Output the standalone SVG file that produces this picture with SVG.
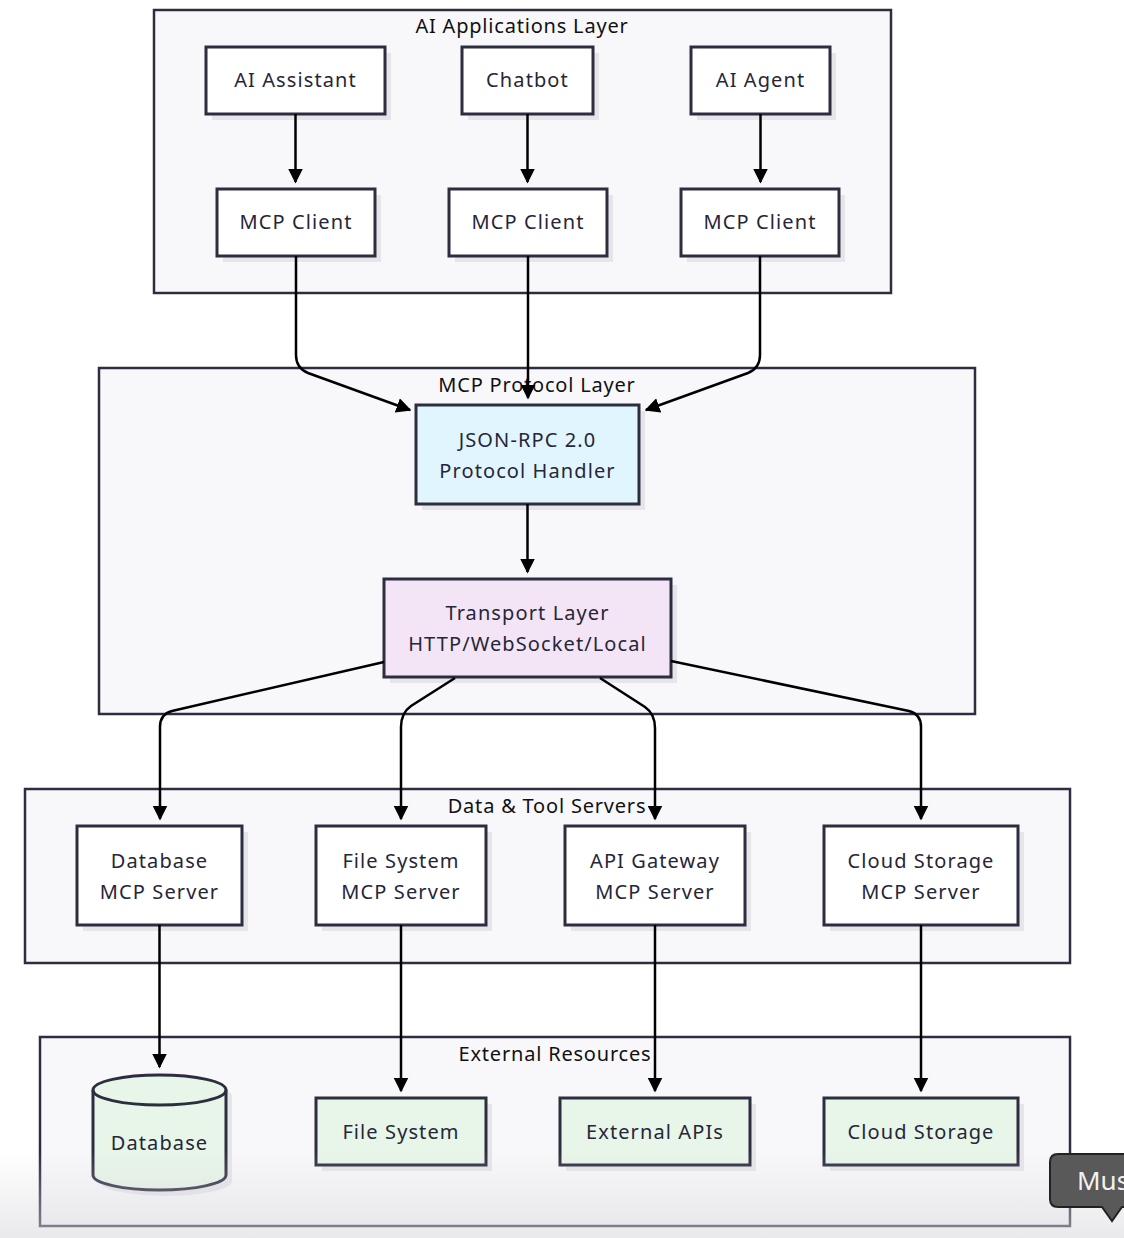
<svg xmlns="http://www.w3.org/2000/svg" width="1124" height="1238" viewBox="0 0 1124 1238">
<defs>
<marker id="arr" viewBox="0 0 10 10" refX="9" refY="5" markerWidth="6" markerHeight="6" markerUnits="strokeWidth" orient="auto">
<path d="M0,0 L10,5 L0,10 z" fill="#000"/>
</marker>
<linearGradient id="fade" x1="0" y1="0" x2="0" y2="1">
<stop offset="0" stop-color="#d8d8dc" stop-opacity="0"/>
<stop offset="1" stop-color="#d8d8dc" stop-opacity="0.55"/>
</linearGradient>
</defs>
<style>
.cl{fill:#f8f8fb;stroke:#2d2d40;stroke-width:2.5}
.nd{stroke:#2d2d40;stroke-width:3}
.sh{fill:#e6e6ea}
.w{fill:#ffffff}
.b{fill:#e1f5fe}
.p{fill:#f3e5f5}
.g{fill:#e8f5e9}
text{font-family:"Noto Sans","DejaVu Sans",sans-serif;font-size:20px;letter-spacing:1.1px;fill:#262638;text-anchor:middle}
.lbl{fill:#111;letter-spacing:0.8px}
.e{fill:none;stroke:#000;stroke-width:2.5;marker-end:url(#arr)}
</style>
<rect width="1124" height="1238" fill="#ffffff"/>

<g id="cluster-apps"><rect class="cl" x="154" y="10" width="737" height="283"/><text class="lbl" x="522" y="33">AI Applications Layer</text></g>
<g id="cluster-protocol"><rect class="cl" x="99" y="368" width="876" height="346"/><text class="lbl" x="537" y="392">MCP Protocol Layer</text></g>
<g id="cluster-servers"><rect class="cl" x="25" y="789" width="1045" height="174"/><text class="lbl" x="547" y="813">Data &amp; Tool Servers</text></g>
<g id="cluster-external"><rect class="cl" x="40" y="1037" width="1030" height="189"/><text class="lbl" x="555" y="1061">External Resources</text></g>

<g id="n-assistant"><rect class="sh" x="212" y="53" width="179" height="67"/><rect class="nd w" x="206" y="47" width="179" height="67"/><text x="295.5" y="87">AI Assistant</text></g>
<g id="n-chatbot"><rect class="sh" x="468" y="53" width="131" height="67"/><rect class="nd w" x="462" y="47" width="131" height="67"/><text x="527.5" y="87">Chatbot</text></g>
<g id="n-agent"><rect class="sh" x="697" y="53" width="139" height="67"/><rect class="nd w" x="691" y="47" width="139" height="67"/><text x="760.5" y="87">AI Agent</text></g>

<g id="n-client1"><rect class="sh" x="223" y="195" width="158" height="67"/><rect class="nd w" x="217" y="189" width="158" height="67"/><text x="296" y="229">MCP Client</text></g>
<g id="n-client2"><rect class="sh" x="455" y="195" width="158" height="67"/><rect class="nd w" x="449" y="189" width="158" height="67"/><text x="528" y="229">MCP Client</text></g>
<g id="n-client3"><rect class="sh" x="687" y="195" width="158" height="67"/><rect class="nd w" x="681" y="189" width="158" height="67"/><text x="760" y="229">MCP Client</text></g>

<g id="n-jsonrpc"><rect class="sh" x="422" y="411" width="223" height="99"/><rect class="nd b" x="416" y="405" width="223" height="99"/><text x="527.5" y="447">JSON-RPC 2.0</text><text x="527.5" y="478">Protocol Handler</text></g>
<g id="n-transport"><rect class="sh" x="390" y="585" width="287" height="98"/><rect class="nd p" x="384" y="579" width="287" height="98"/><text x="527.5" y="620">Transport Layer</text><text x="527.5" y="651">HTTP/WebSocket/Local</text></g>

<g id="n-dbserver"><rect class="sh" x="83" y="832" width="165" height="99"/><rect class="nd w" x="77" y="826" width="165" height="99"/><text x="159.5" y="868">Database</text><text x="159.5" y="899">MCP Server</text></g>
<g id="n-fsserver"><rect class="sh" x="322" y="832" width="170" height="99"/><rect class="nd w" x="316" y="826" width="170" height="99"/><text x="401" y="868">File System</text><text x="401" y="899">MCP Server</text></g>
<g id="n-apiserver"><rect class="sh" x="571" y="832" width="180" height="99"/><rect class="nd w" x="565" y="826" width="180" height="99"/><text x="655" y="868">API Gateway</text><text x="655" y="899">MCP Server</text></g>
<g id="n-cloudserver"><rect class="sh" x="830" y="832" width="194" height="99"/><rect class="nd w" x="824" y="826" width="194" height="99"/><text x="921" y="868">Cloud Storage</text><text x="921" y="899">MCP Server</text></g>

<g id="n-db">
<path class="sh" d="M99,1096 a66.5,15 0 0 1 133,0 v85 a66.5,15 0 0 1 -133,0 z"/>
<path class="nd g" d="M93,1090 a66.5,15 0 0 1 133,0 v85 a66.5,15 0 0 1 -133,0 z"/>
<path d="M93,1090 a66.5,15 0 0 0 133,0" fill="none" stroke="#2d2d40" stroke-width="3"/>
<text x="159.5" y="1150">Database</text></g>
<g id="n-fs"><rect class="sh" x="322" y="1104" width="170" height="67"/><rect class="nd g" x="316" y="1098" width="170" height="67"/><text x="401" y="1139">File System</text></g>
<g id="n-apis"><rect class="sh" x="566" y="1104" width="190" height="67"/><rect class="nd g" x="560" y="1098" width="190" height="67"/><text x="655" y="1139">External APIs</text></g>
<g id="n-cloud"><rect class="sh" x="830" y="1104" width="194" height="67"/><rect class="nd g" x="824" y="1098" width="194" height="67"/><text x="921" y="1139">Cloud Storage</text></g>

<g id="connectors">
<path class="e" d="M295.5,114 V182"/>
<path class="e" d="M527.5,114 V182"/>
<path class="e" d="M760.5,114 V182"/>
<path class="e" d="M296,256 V355 Q296,368 308,373 L410,410"/>
<path class="e" d="M528,256 V398"/>
<path class="e" d="M760,256 V355 Q760,368 748,373 L646,410"/>
<path class="e" d="M527.5,504 V572"/>
<path class="e" d="M384,662 L172,711 Q160,714 160,727 V819"/>
<path class="e" d="M455,678 L411,706 Q401,713 401,727 V819"/>
<path class="e" d="M600,678 L645,707 Q655,714 655,728 V819"/>
<path class="e" d="M671,661 L909,711 Q921,714 921,727 V819"/>
<path class="e" d="M159.5,925 V1067"/>
<path class="e" d="M401,925 V1091"/>
<path class="e" d="M655,925 V1091"/>
<path class="e" d="M921,925 V1091"/>
</g>

<rect x="0" y="1150" width="1124" height="88" fill="url(#fade)"/>

<g id="tooltip">
<path d="M1058,1154 H1130 V1207 H1122 L1112,1221 L1102,1207 H1058 Q1050,1207 1050,1199 V1162 Q1050,1154 1058,1154 z" fill="#595959" stroke="#222" stroke-width="2"/>
<text x="1077" y="1190" style="font-size:26px;letter-spacing:0;fill:#f2f2f2;text-anchor:start">Mus</text>
</g>
</svg>
